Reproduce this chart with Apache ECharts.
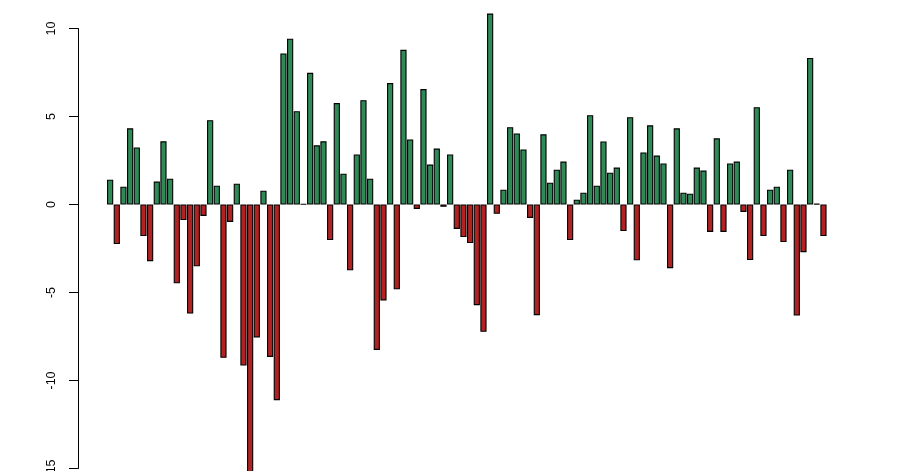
<!DOCTYPE html>
<html>
<head>
<meta charset="utf-8">
<script src="https://cdn.jsdelivr.net/npm/echarts@6/dist/echarts.min.js"></script>
<style>html,body{margin:0;padding:0;background:#fff}#c{width:897px;height:471px}</style>
</head>
<body>
<div id="c"></div>
<script>
// bar values, left to right
const values1 = [1.41, -2.25, 1.01, 4.33, 3.24, -1.79, -3.22, 1.30, 3.59, 1.47,
  -4.48, -0.88, -6.20, -3.51, -0.65, 4.79, 1.07, -8.71, -0.99, 1.18,
  -9.15, -15.3, -7.55, 0.78, -8.66, -11.12, 8.58, 9.42, 5.30, 0.02];
const values2 = [7.48, 3.36, 3.59, -2.02, 5.76, 1.75, -3.74, 2.84, 5.93, 1.47,
  -8.26, -5.45, 6.90, -4.82, 8.79, 3.70, -0.25, 6.56, 2.27, 3.18,
  -0.13, 2.84, -1.39, -1.85, -2.19, -5.72, -7.23, 10.85, -0.53, 0.84];
const values3 = [4.39, 4.04, 3.13, -0.76, -6.29, 3.99, 1.24, 1.98, 2.44, -2.02,
  0.27, 0.67, 5.07, 1.07, 3.58, 1.81, 2.10, -1.51, 4.96, -3.17,
  2.96, 4.50, 2.78, 2.33, -3.62, 4.33, 0.67, 0.61, 2.10, 1.93];
const values4 = [-1.56, 3.76, -1.56, 2.33, 2.44, -0.42, -3.16, 5.53, -1.79, 0.84,
  1.01, -2.13, 1.98, -6.31, -2.71, 8.33, 0.04, -1.79];
const values = values1.concat(values2, values3, values4);
const categories = values.map((v, i) => String(i + 1));
const yTicks = [-15, -10, -5, 0, 5, 10];

const posColor = '#2E8B57';
const negColor = '#B22222';

const chart = echarts.init(document.getElementById('c'), null, {renderer: 'canvas'});
chart.setOption({
  animation: false,
  backgroundColor: '#ffffff',
  grid: {left: 106.8, right: 70.2, top: 28.5, bottom: 2.5, containLabel: false, outerBoundsMode: 'none'},
  xAxis: {
    type: 'category', data: categories, boundaryGap: true, show: false
  },
  yAxis: {
    type: 'value',
    offset: 28.8,
    min: yTicks[0], max: yTicks[yTicks.length - 1], interval: 5,
    splitLine: {show: false},
    axisLine: {show: true, onZero: false, lineStyle: {color: '#000', width: 1}},
    axisTick: {show: true, inside: false, length: 9, lineStyle: {color: '#000', width: 1}},
    axisLabel: {
      rotate: 90, margin: 20, color: '#000',
      fontFamily: 'Liberation Sans, Arial, sans-serif', fontSize: 12.5
    }
  },
  series: [{
    type: 'bar',
    data: values,
    barCategoryGap: '7%',
    clip: false,
    itemStyle: {
      borderColor: '#000', borderWidth: 1.1,
      color: p => (p.value >= 0 ? posColor : negColor)
    }
  }]
});
</script>
</body>
</html>
